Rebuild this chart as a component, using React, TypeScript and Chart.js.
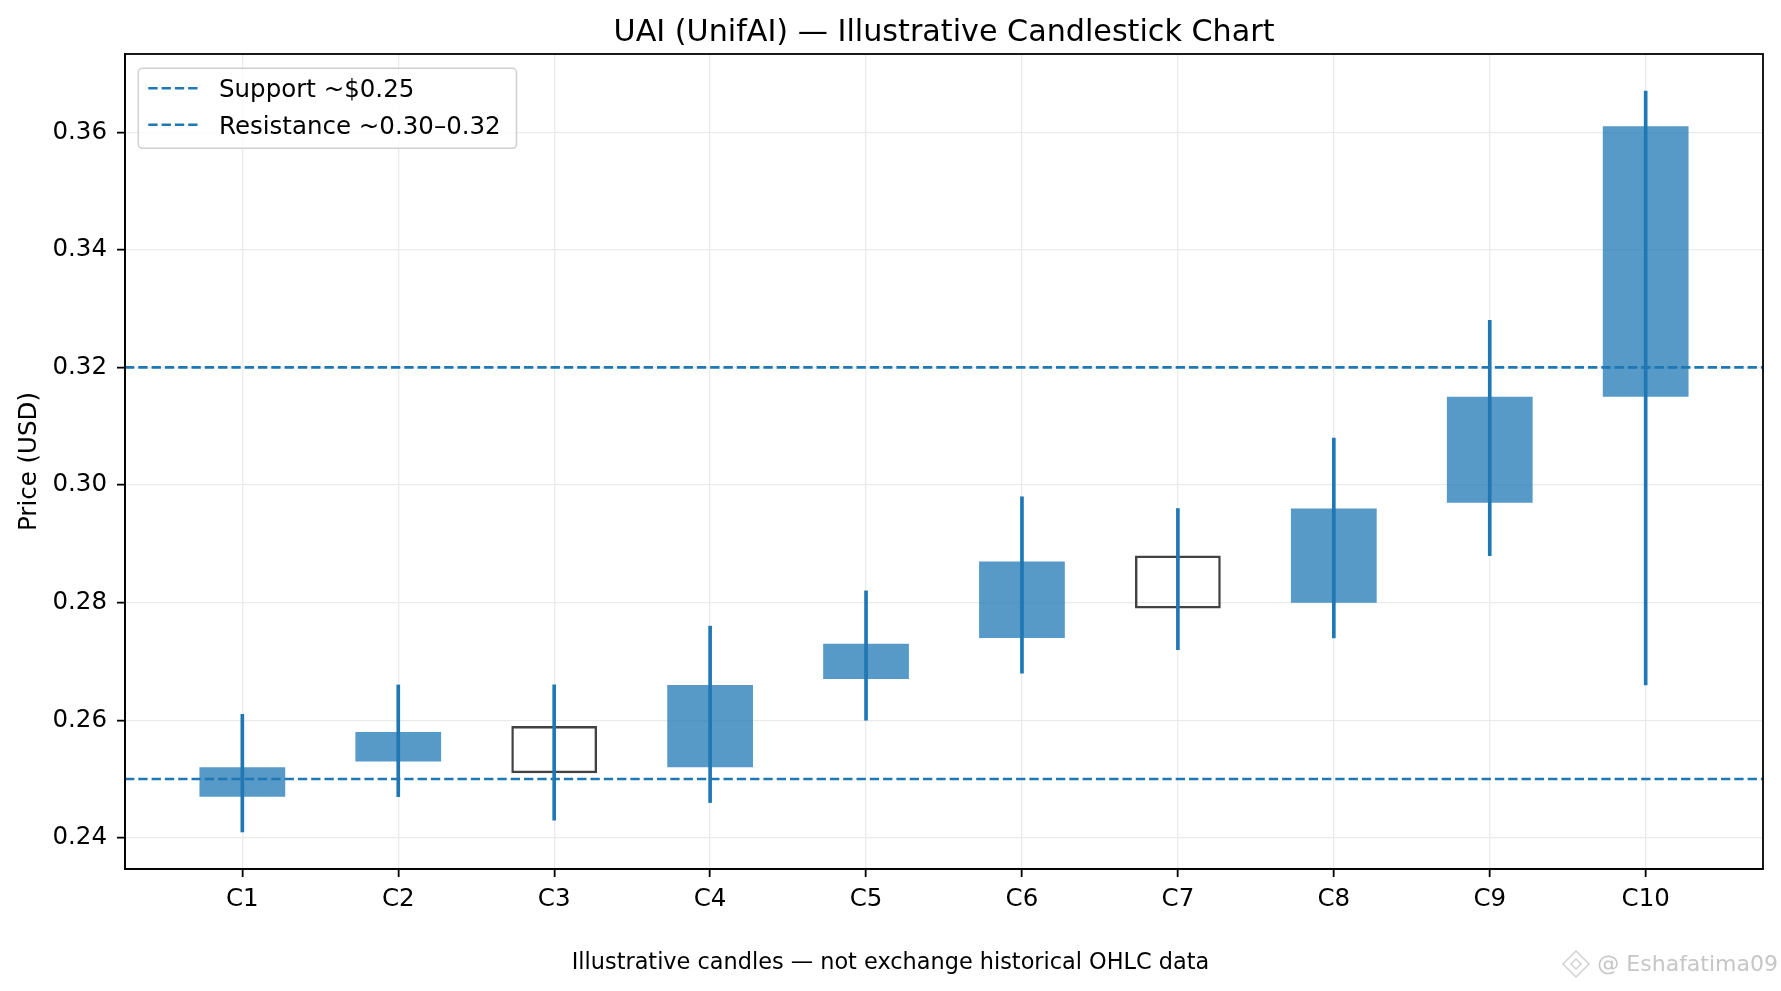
import { useEffect, useRef } from 'react';
import { Chart, registerables } from 'chart.js';

Chart.register(...registerables);

// candle data (illustrative)
const categories = ['C1', 'C2', 'C3', 'C4', 'C5', 'C6', 'C7', 'C8', 'C9', 'C10'];
const opens = [0.247, 0.253, 0.259, 0.252, 0.267, 0.274, 0.288, 0.28, 0.297, 0.315];
const closes = [0.252, 0.258, 0.251, 0.266, 0.273, 0.287, 0.279, 0.296, 0.315, 0.361];
const highs = [0.261, 0.266, 0.266, 0.276, 0.282, 0.298, 0.296, 0.308, 0.328, 0.367];
const lows = [0.241, 0.247, 0.243, 0.246, 0.26, 0.268, 0.272, 0.274, 0.288, 0.266];

// horizontal reference levels
const levelValues = [0.25, 0.32];
const levelLabels = ['Support ~$0.25', 'Resistance ~0.30–0.32'];

const yTicks = [0.24, 0.26, 0.28, 0.3, 0.32, 0.34, 0.36];

const TITLE = 'UAI (UnifAI) — Illustrative Candlestick Chart';
const Y_LABEL = 'Price (USD)';
const FOOTNOTE = 'Illustrative candles — not exchange historical OHLC data';
const WATERMARK = '@ Eshafatima09';

const FONT = '"DejaVu Sans", sans-serif';
const BLUE = '#1f77b4';
const BODY_WIDTH = 0.55;
const DASH = [9.3, 4];

// axis limits with 5% margins, like matplotlib autoscale
const yLo = Math.min(...lows);
const yHi = Math.max(...highs);
const yPad = (yHi - yLo) * 0.05;
const xLo = -BODY_WIDTH / 2;
const xHi = categories.length - 1 + BODY_WIDTH / 2;
const xPad = (xHi - xLo) * 0.05;
const X_MIN = xLo - xPad;
const X_MAX = xHi + xPad;

const isUp = (i: number) => closes[i] >= opens[i];

const decorPlugin = {
  id: 'decor',
  afterDraw(chart: Chart) {
    const { ctx, chartArea } = chart;
    const { left, top, right, bottom } = chartArea;
    ctx.save();

    // frame (top/right spines)
    ctx.strokeStyle = '#000';
    ctx.lineWidth = 1.8;
    ctx.strokeRect(left, top, right - left, bottom - top);

    // title
    ctx.fillStyle = '#000';
    ctx.font = `30.2px ${FONT}`;
    ctx.textAlign = 'center';
    ctx.textBaseline = 'alphabetic';
    ctx.fillText(TITLE, (left + right) / 2, 40.5);

    // y label
    ctx.save();
    ctx.font = `24.5px ${FONT}`;
    ctx.translate(36, (top + bottom) / 2);
    ctx.rotate(-Math.PI / 2);
    ctx.fillText(Y_LABEL, 0, 0);
    ctx.restore();

    // footnote
    ctx.font = `22.4px ${FONT}`;
    ctx.fillText(FOOTNOTE, chart.width / 2, 969);

    // watermark
    ctx.fillStyle = '#c6c6c6';
    ctx.textAlign = 'right';
    ctx.font = `22px ${FONT}`;
    ctx.fillText(WATERMARK, 1778, 971);
    ctx.strokeStyle = '#d2d2d2';
    ctx.lineWidth = 1.5;
    const lx = 1576;
    const ly = 964;
    const diamond = (cx: number, cy: number, r: number) => {
      ctx.beginPath();
      ctx.moveTo(cx, cy - r);
      ctx.lineTo(cx + r, cy);
      ctx.lineTo(cx, cy + r);
      ctx.lineTo(cx - r, cy);
      ctx.closePath();
      ctx.stroke();
    };
    diamond(lx, ly, 13);
    diamond(lx, ly, 5);

    // legend
    const bx = 138.3;
    const by = 68.3;
    const bw = 378.2;
    const bh = 80;
    ctx.beginPath();
    ctx.roundRect(bx, by, bw, bh, 4);
    ctx.fillStyle = 'rgba(255,255,255,0.8)';
    ctx.fill();
    ctx.strokeStyle = '#d0d0d0';
    ctx.lineWidth = 1.5;
    ctx.stroke();

    const lineY = [88.3, 124.8];
    const textY = [97, 133.8];
    const levelSets = chart.data.datasets.filter((d: any) => d.type === 'line');
    ctx.textAlign = 'left';
    ctx.font = `24.5px ${FONT}`;
    levelSets.forEach((ds: any, i: number) => {
      ctx.save();
      ctx.strokeStyle = ds.borderColor;
      ctx.lineWidth = ds.borderWidth;
      ctx.setLineDash(ds.borderDash);
      ctx.beginPath();
      ctx.moveTo(148.3, lineY[i]);
      ctx.lineTo(198.3, lineY[i]);
      ctx.stroke();
      ctx.restore();
      ctx.fillStyle = '#000';
      ctx.fillText(ds.label, 219, textY[i]);
    });

    ctx.restore();
  },
};

const App: React.FC = () => {
  const canvasRef = useRef<HTMLCanvasElement>(null);

  useEffect(() => {
    if (!canvasRef.current) return;
    Chart.defaults.font.family = FONT;

    const levelDatasets = levelValues.map((v, i) => ({
      type: 'line' as const,
      label: levelLabels[i],
      data: [
        { x: X_MIN, y: v },
        { x: X_MAX, y: v },
      ],
      borderColor: BLUE,
      borderWidth: 2.6,
      borderDash: DASH,
      pointRadius: 0,
      fill: false,
      order: 1,
    }));

    const chart = new Chart(canvasRef.current, {
      type: 'bar',
      data: {
        datasets: [
          {
            type: 'bar',
            label: 'Body',
            data: categories.map((_, i) => ({ x: i, y: [opens[i], closes[i]] })) as any,
            backgroundColor: (c: any) => (isUp(c.dataIndex) ? 'rgba(31,119,180,0.75)' : 'rgba(255,255,255,0)'),
            borderColor: (c: any) => (isUp(c.dataIndex) ? 'rgba(0,0,0,0)' : '#424242'),
            borderWidth: (c: any) => (isUp(c.dataIndex) ? 0 : 2.4),
            borderSkipped: false,
            grouped: false,
            categoryPercentage: 1,
            barPercentage: BODY_WIDTH,
            order: 3,
          },
          {
            type: 'bar',
            label: 'Wick',
            data: categories.map((_, i) => ({ x: i, y: [lows[i], highs[i]] })) as any,
            backgroundColor: BLUE,
            borderWidth: 0,
            barThickness: 3,
            grouped: false,
            order: 2,
          },
          ...levelDatasets,
        ] as any,
      },
      options: {
        animation: false,
        responsive: true,
        maintainAspectRatio: false,
        events: [],
        layout: { padding: { top: 54, right: 18, left: 0, bottom: 0 } },
        plugins: {
          legend: { display: false },
          title: { display: false },
          tooltip: { enabled: false },
        },
        scales: {
          x: {
            type: 'linear',
            min: X_MIN,
            max: X_MAX,
            offset: false,
            afterBuildTicks: (scale: any) => {
              scale.ticks = categories.map((_, i) => ({ value: i }));
            },
            afterFit: (scale: any) => {
              scale.height = 122;
            },
            ticks: {
              autoSkip: false,
              maxRotation: 0,
              padding: 7.5,
              color: '#000',
              font: { size: 24.5 },
              callback: (v: any) => categories[v] ?? '',
            },
            grid: {
              offset: false,
              color: '#ebebeb',
              lineWidth: 1.3,
              tickColor: '#000',
              tickLength: 8,
              tickWidth: 1.8,
            },
            border: { display: true, color: '#000', width: 1.8 },
          },
          y: {
            type: 'linear',
            min: yLo - yPad,
            max: yHi + yPad,
            afterBuildTicks: (scale: any) => {
              scale.ticks = yTicks.map((v) => ({ value: v }));
            },
            afterFit: (scale: any) => {
              scale.width = 125;
            },
            ticks: {
              padding: 10,
              color: '#000',
              font: { size: 24.5 },
              callback: (v: any) => Number(v).toFixed(2),
            },
            grid: {
              color: '#ebebeb',
              lineWidth: 1.3,
              tickColor: '#000',
              tickLength: 8,
              tickWidth: 1.8,
            },
            border: { display: true, color: '#000', width: 1.8 },
          },
        },
      },
      plugins: [decorPlugin],
    });

    return () => {
      chart.destroy();
    };
  }, []);

  return (
    <div style={{ position: 'fixed', left: 0, top: 0, width: 1781, height: 991, background: '#fff' }}>
      <canvas ref={canvasRef} />
    </div>
  );
};

export default App;
